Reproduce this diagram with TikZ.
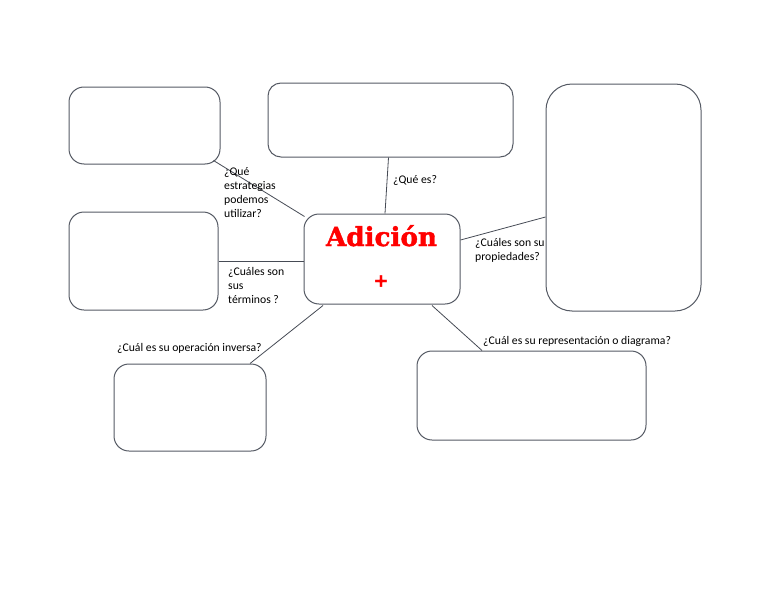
\documentclass[tikz,border=0pt]{standalone}
\usepackage{fontspec}
\setmainfont{Carlito}
\newfontfamily\titlefont[BoldFeatures={FakeBold=1.5}]{DejaVu Serif}
\usetikzlibrary{calc}
\definecolor{boxline}{RGB}{85,90,100}
\definecolor{linkline}{RGB}{70,75,85}
\begin{document}
\begin{tikzpicture}[x=1pt,y=-1pt,
  box/.style={draw=boxline,line width=1pt,fill=white,inner sep=0pt,rounded corners=#1},
  box/.default=15pt,
  link/.style={draw=linkline,line width=0.8pt},
  lbl/.style={inner sep=0pt,font=\fontsize{11.7}{14}\selectfont,align=left,text=black}]
\useasboundingbox (0,0) rectangle (768,594);
% boxes
\node[box,minimum width=151pt,minimum height=77pt] (tl) at (144.5,125.5) {};
\node[box=13pt,minimum width=245pt,minimum height=74pt] (tc) at (390.5,120) {};
\node[box=26pt,minimum width=155pt,minimum height=227pt] (r) at (623.5,197.5) {};
\node[box,minimum width=149pt,minimum height=98pt] (ml) at (143.5,261) {};
\node[box,minimum width=156pt,minimum height=90pt] (c) at (382,259) {};
\node[box,minimum width=152pt,minimum height=87pt] (bl) at (190,407.5) {};
\node[box,minimum width=229pt,minimum height=89pt] (br) at (531.5,395.5) {};
% center text
\node[inner sep=0pt,anchor=base,text=red,font=\titlefont\bfseries\fontsize{26.2}{30}\selectfont] (title) at (381.5,246) {Adición};
\node[inner sep=0pt,text=red,font=\titlefont\bfseries\fontsize{18}{20}\selectfont] (plus) at (381,281) {+};
% connectors
\draw[link] ($(tl.south east)+(-7,-4)$) -- ($(c.north west)+(1,3)$);
\draw[link] ($(tc.south)+(-2,0)$) -- ($(c.north)+(3,0)$);
\draw[link] ($(r.west)+(0,19.5)$) -- ($(c.east)+(0,-19)$);
\draw[link] (ml.east) -- (ml.east -| c.west);
\draw[link] ($(bl.north)+(60,0)$) -- ($(c.south)+(-59,1)$);
\draw[link] ($(br.north)+(-49.5,0)$) -- ($(c.south)+(50,1)$);
% labels
\node[lbl,anchor=base west] (q1) at (224,217.5) {¿Qué\\estrategias\\podemos\\utilizar?};
\node[lbl,anchor=base west] (q2) at (393,183) {¿Qué es?};
\node[lbl,anchor=base west] (q3) at (228,303) {¿Cuáles son\\sus\\términos ?};
\node[lbl,anchor=base west] (q4) at (475,260) {¿Cuáles son su\\propiedades?};
\node[lbl,anchor=base west] (q5) at (117,351) {¿Cuál es su operación inversa?};
\node[lbl,anchor=base west] (q6) at (483,344) {¿Cuál es su representación o diagrama?};
\end{tikzpicture}
\end{document}
